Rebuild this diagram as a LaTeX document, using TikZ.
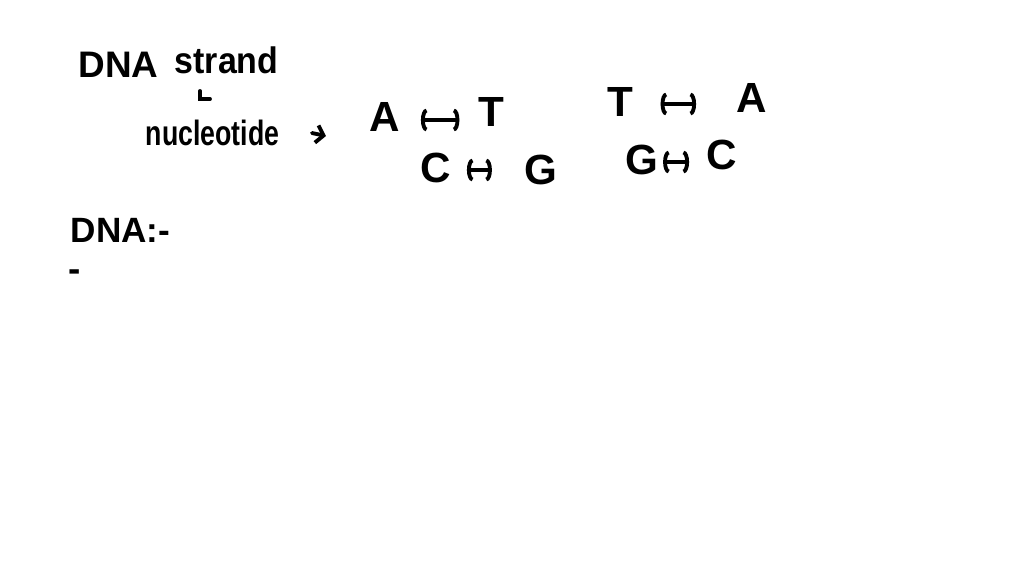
\documentclass[tikz,border=0pt]{standalone}
\usepackage{fontspec}
\setmainfont{Liberation Sans}
\usepackage{graphicx}
\usepackage{tikz}
\usetikzlibrary{positioning,arrows.meta}

\tikzset{
  note/.style={inner sep=0pt, font=\bfseries\fontsize{10.5}{13}\selectfont},
  base/.style={inner sep=0pt, font=\bfseries\fontsize{12}{14}\selectfont},
  pair/.style={{Arc Barb[length=1.6pt,width=6.5pt]}-{Arc Barb[length=1.6pt,width=6.5pt]}, line width=1.1pt, line cap=round},
  ink/.style={line width=1.1pt, line cap=round}
}

\begin{document}
\begin{tikzpicture}
                \useasboundingbox[fill=white] (0,0) rectangle (10.24,-5.76);

                \node[note, anchor=west] (dnaword) at (0.78,-0.65) {DNA};
                \node[note, anchor=west] (strand) at (1.74,-0.60) {\scalebox{0.92}[1]{strand}};
                \node[note, anchor=west] (nuc) at (1.45,-1.33) {\scalebox{0.76}[1]{\fontsize{10}{12}\selectfont nucleotide}};
                \coordinate (hook) at (2.00,-0.91);
                \coordinate (ptr) at (3.26,-1.36);

                \node[base] (a1) at (3.85,-1.17) {A};
                \node[base] (t1) at (4.91,-1.12) {T};
                \node[base] (t2) at (6.20,-1.02) {T};
                \node[base] (a2) at (7.52,-0.98) {A};
                \node[base] (c1) at (4.36,-1.68) {C};
                \node[base] (g1) at (5.41,-1.70) {G};
                \node[base] (g2) at (6.42,-1.60) {G};
                \node[base] (c2) at (7.22,-1.55) {C};

                \node[note, anchor=west, font=\bfseries\fontsize{10}{12}\selectfont] (dna) at (0.70,-2.30) {DNA:-};
                \node[note, anchor=west] (dash) at (0.68,-2.76) {-};

                \draw[ink] (hook) |- ++(0.10,-0.08);
                \draw[ink, -{Straight Barb[length=2pt,width=5pt]}] ([xshift=0.32cm]nuc.east) -- (ptr);

                \draw[pair] ([xshift=0.20cm,yshift=-0.03cm]a1.east) -- ([xshift=-0.18cm,yshift=-0.08cm]t1.west);
                \draw[pair] ([xshift=0.27cm,yshift=-0.02cm]t2.east) -- ([xshift=-0.40cm,yshift=-0.06cm]a2.west);
                \draw[pair] ([xshift=0.15cm,yshift=-0.02cm]c1.east) -- ([xshift=-0.32cm]g1.west);
                \draw[pair] ([xshift=0.04cm,yshift=-0.02cm]g2.east) -- ([xshift=-0.17cm,yshift=-0.07cm]c2.west);
            \end{tikzpicture}
\end{document}
